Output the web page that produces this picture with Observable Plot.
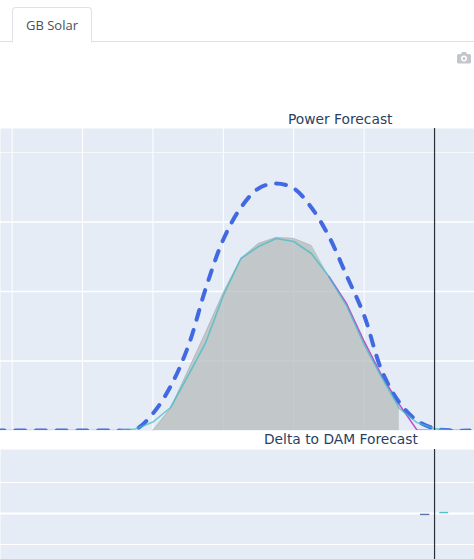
<!DOCTYPE html>
<html><head><meta charset="utf-8">
<script src="https://cdn.jsdelivr.net/npm/d3@7"></script>
<script src="https://cdn.jsdelivr.net/npm/@observablehq/plot@0.6"></script>
<style>
html,body{margin:0;padding:0;background:#fff;overflow:hidden}
#page{position:relative;width:474px;height:559px;overflow:hidden;font-family:"DejaVu Sans",sans-serif}
#navline{position:absolute;left:0;right:0;top:41px;height:1px;background:#dee2e6}
#tab{position:absolute;left:12px;top:7px;width:78px;height:34px;border:1px solid #dee2e6;border-bottom:1px solid #fff;border-radius:4px 4px 0 0;background:#fff;color:#495057;font:13px/34px "Open Sans",sans-serif;text-align:center}
.title{position:absolute;color:#2a3f5f;font-size:13.8px;line-height:16px;white-space:nowrap}
#t1{left:288px;top:111px}
#t2{left:264px;top:431px}
#cam{position:absolute;left:457px;top:51px}
#p1{position:absolute;left:0;top:128px}
#p2{position:absolute;left:0;top:449px}
svg{display:block}
</style></head><body>
<div id="page">
<div id="navline"></div>
<div id="tab">GB Solar</div>
<svg id="cam" width="14" height="13" viewBox="0 0 14 13"><path fill="#c3c7cb" fill-rule="evenodd" d="M1.5 3H4L5 1H9L10 3H12.5A1.5 1.5 0 0 1 14 4.500V11A1.500 1.500 0 0 1 12.500 12.500H1.500A1.500 1.500 0 0 1 0 11V4.500A1.500 1.500 0 0 1 1.500 3ZM7 4.500A3 3 0 1 0 7 10.500A3 3 0 1 0 7 4.500ZM7 6A1.500 1.500 0 1 1 7 9A1.500 1.500 0 1 1 7 6Z"/></svg>
<div class="title" id="t1">Power Forecast</div>
<div class="title" id="t2">Delta to DAM Forecast</div>
<div id="p1"></div>
<div id="p2"></div>
</div>
<script>
const xDomain = [-4.66, 22.27];
const xTicks = [-4, 0, 4, 8, 12, 16];
const nowHour = 20;
const powerTicks = [1000, 2000, 3000];
const powerTopTick = [4000];
const deltaTicks = [-1, 1];

const hours = d3.range(-5, 23);
// MW, one value per hour from -5 to 22
const forecast = [0,0,0,0,0,0,0,0,14,245,633,1209,2043,2748,3209,3482,3554,3482,3209,2791,2230,1655,862,403,144,29,0,0];
const latest   = [0,0,0,0,0,0,0,4,22,122,331,791,1266,1942,2475,2647,2763,2719,2547,2216,1799,1237,763,317,115,29,0,0];
const revised  = [null,null,null,null,null,null,null,null,null,null,null,null,null,null,null,null,null,null,null,2216,1827,1281,791,374,7,0,0,0];
const actualHours = [4,5,6,7,8,9,10,11,12,13,14,15,16,17,18];
const actual = [0,317,863,1410,1985,2474,2691,2777,2763,2662,2201,1827,1295,791,374];

const deltaX1 = [19.2, 20.3];
const deltaX2 = [19.73, 20.8];
const deltaY = [-0.03, 0.03];
const deltaColor = ["#5c72a8", "#52c0c8"];

const powerRows = hours.map((h,i)=>({h,forecast:forecast[i],latest:latest[i],revised:revised[i]}));
const actualRows = actualHours.map((h,i)=>({h,v:actual[i]}));
const deltaRows = deltaX1.map((x,i)=>({x1:x,x2:deltaX2[i],y:deltaY[i],c:deltaColor[i]}));

const p1 = Plot.plot({
  width:474,height:303,marginTop:0,marginRight:0,marginBottom:1,marginLeft:0,
  x:{domain:xDomain,axis:null},
  y:{domain:[0,4345],axis:null},
  marks:[
    Plot.frame({fill:"#e5ecf6",stroke:null}),
    Plot.ruleX(xTicks,{stroke:"#fff",strokeWidth:1}),
    Plot.ruleY(powerTicks,{stroke:"#fff",strokeWidth:1.5}),
    Plot.ruleY(powerTopTick,{stroke:"#fff",strokeWidth:1,strokeOpacity:0.7}),
    Plot.areaY(actualRows,{x:"h",y:"v",fill:"#b4b8b9",fillOpacity:0.72}),
    Plot.line(actualRows,{x:"h",y:"v",stroke:"#aeb4b5",strokeWidth:1,strokeOpacity:0.6}),
    Plot.line(powerRows.filter(d=>d.revised!=null),{x:"h",y:"revised",stroke:"#c24fd0",strokeWidth:1.5,clip:true}),
    Plot.line(powerRows,{x:"h",y:"forecast",stroke:"#4169e1",strokeWidth:4,strokeDasharray:"10,10.7",curve:"catmull-rom",clip:true}),
    Plot.line(powerRows,{x:"h",y:"latest",stroke:"#3fbcc8",strokeWidth:1.6,strokeOpacity:0.72,clip:true}),
    Plot.ruleX([nowHour],{stroke:"#2a3038",strokeWidth:1.2})
  ]
});
document.getElementById("p1").append(p1);

const p2 = Plot.plot({
  width:474,height:110,marginTop:0,marginRight:0,marginBottom:0,marginLeft:0,
  x:{domain:xDomain,axis:null},
  y:{domain:[-1.484,2.065],axis:null},
  marks:[
    Plot.frame({fill:"#e5ecf6",stroke:null}),
    Plot.ruleY(deltaTicks,{stroke:"#fff",strokeWidth:1.2}),
    Plot.ruleY([0],{stroke:"#fff",strokeWidth:2}),
    Plot.ruleY(deltaRows,{x1:"x1",x2:"x2",y:"y",stroke:"c",strokeWidth:1.4}),
    Plot.ruleX([nowHour],{stroke:"#2a3038",strokeWidth:1.2})
  ]
});
document.getElementById("p2").append(p2);
</script>
</body></html>
